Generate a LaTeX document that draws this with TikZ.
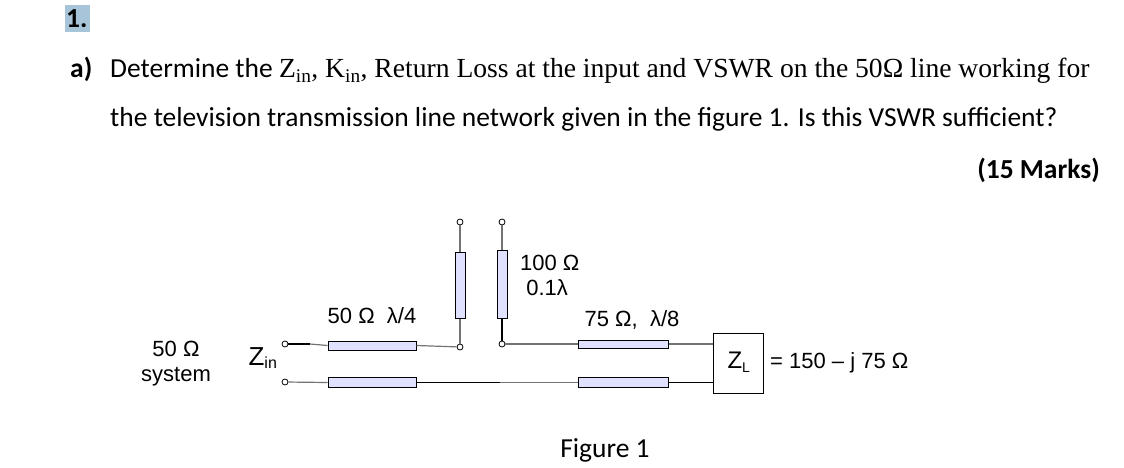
\documentclass[tikz,border=0pt]{standalone}
\usepackage{fontspec}
\setmainfont{Carlito}
\newfontfamily\cmb{Liberation Serif}
\newfontfamily\arl{Liberation Sans}
\definecolor{hl}{HTML}{A8C4D8}
\begin{document}
\begin{tikzpicture}[x=1pt,y=-1pt,
  txt/.style={inner sep=0pt,anchor=base west,font=\fontsize{27.5}{30}\selectfont},
  ckt/.style={inner sep=0pt,font=\arl\fontsize{22}{25}\selectfont},
  tl/.style={draw=black,fill=blue!12,line width=1pt,inner sep=0pt},
  term/.style={circle,draw=black,fill=white,inner sep=0pt,minimum size=6pt,line width=0.8pt},
  wire/.style={draw=black!55,line width=1.2pt}]
\useasboundingbox (0,0) rectangle (1124,468);
% header
\fill[hl] (65,5) rectangle (90,32);
\node[txt,font=\bfseries\fontsize{27.5}{30}\selectfont] (n1) at (66,28) {1.};
\node[txt,font=\bfseries\fontsize{27.5}{30}\selectfont] (qa) at (70,78) {a)};
\node[txt] (l1) at (110,78) {Determine the {\cmb\fontsize{27.6}{30}\selectfont Z\textsubscript{in}, K\textsubscript{in}, Return Loss at the input and VSWR on the 50Ω line working for}};
\node[txt] (l2) at (110,127) {the television transmission line network given in the figure 1. Is this VSWR sufficient?};
\node[txt,anchor=base east,font=\bfseries\fontsize{27.5}{30}\selectfont] (mk) at (1100,178) {(15 Marks)};
% terminals
\node[term] (i1) at (285,344) {};
\node[term] (i2) at (285,382) {};
\node[term] (j1) at (460,347) {};
\node[term] (j2) at (502,344) {};
\node[term] (t1) at (460,222) {};
\node[term] (t2) at (502,222) {};
% lines
\node[tl,minimum width=88pt,minimum height=9pt] (a1) at (372,345.5) {};
\node[tl,minimum width=88pt,minimum height=10pt] (a2) at (372,382.5) {};
\node[tl,minimum width=90pt,minimum height=8pt] (b1) at (623,344) {};
\node[tl,minimum width=90pt,minimum height=10pt] (b2) at (623,382.5) {};
\node[tl,minimum width=10pt,minimum height=66pt] (s1) at (460,285) {};
\node[tl,minimum width=10pt,minimum height=68pt] (s2) at (502,284) {};
\node[draw=black,line width=1pt,minimum width=50pt,minimum height=60pt,inner sep=0pt] (zl) at (738,363) {};
\node[ckt,font=\arl\fontsize{24}{26}\selectfont] (zlt) at (739,362) {Z\textsubscript{\fontsize{14}{14}\selectfont L}};
% wires
\draw[wire,black] (i1) -- (310,344);
\draw[wire] (310,344) -- (a1.west);
\draw[wire] (a1.east) -- (j1);
\draw[wire] (j1) -- (s1.south);
\draw[wire] (s1.north) -- (t1);
\draw[wire,black] (j2) -- (s2.south);
\draw[wire] (s2.north) -- (t2);
\draw[wire] (j2) -- (b1.west);
\draw[wire] (b1.east) -- (zl.west |- b1.east);
\draw[wire] (i2) -- (a2.west);
\draw[wire,black] (a2.east) -- (500,382.5);
\draw[wire] (500,382.5) -- (b2.west);
\draw[wire,black] (b2.east) -- (zl.west |- b2.east);
% labels
\node[ckt,align=center] (sys) at (176,364) {50 Ω\\system};
\node[ckt,font=\arl\fontsize{26}{26}\selectfont] (zin) at (263,358) {Z\textsubscript{\fontsize{16}{16}\selectfont in}};
\node[ckt] (la) at (372,316) {50 Ω\ \ λ/4};
\node[ckt,align=left,anchor=west] (lb) at (520,275) {100 Ω\\\ 0.1λ};
\node[ckt] (lc) at (632,320) {75 Ω,\ \ λ/8};
\node[ckt,anchor=west] (ze) at (770,363) {= 150 – j 75 Ω};
\node[txt,anchor=center] (fig) at (605,450) {Figure 1};
\end{tikzpicture}
\end{document}
